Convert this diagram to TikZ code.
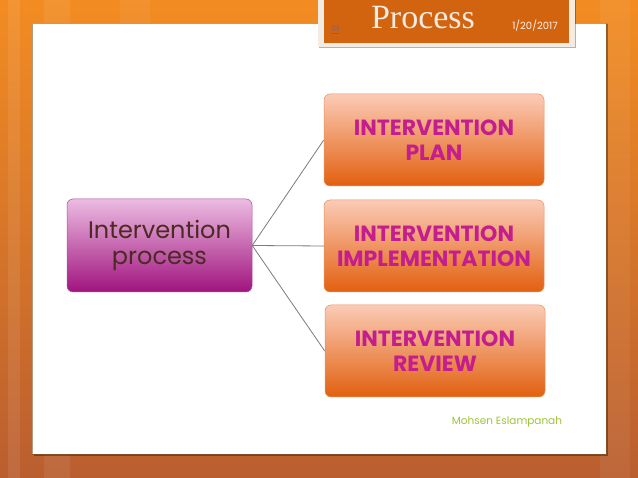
\documentclass[tikz,border=0pt]{standalone}
\usepackage{fontspec}
\setmainfont{Liberation Serif}
\newfontfamily\gothic{Poppins}
\definecolor{bgtop}{HTML}{F28C22}
\definecolor{bgbot}{HTML}{BA5E30}
\definecolor{titlefill}{HTML}{D2630F}
\definecolor{titleedge}{HTML}{F4ECE2}
\definecolor{magtop}{HTML}{ECBCE2}
\definecolor{magbot}{HTML}{A0137E}
\definecolor{magedge}{HTML}{B24C98}
\definecolor{ortop}{HTML}{FBCBB6}
\definecolor{ormid}{HTML}{F4A070}
\definecolor{orbot}{HTML}{E2600F}
\definecolor{oredge}{HTML}{E8915E}
\definecolor{pinktxt}{HTML}{C41E8E}
\definecolor{browntxt}{HTML}{4A2A22}
\definecolor{greentxt}{HTML}{9DC43C}
\definecolor{linkgray}{HTML}{7C7C7C}
\tikzset{
  procbox/.style={rounded corners=6pt, minimum width=185pt, minimum height=93pt,
    top color=magtop, bottom color=magbot, draw=magedge, line width=0.5pt,
    text=browntxt, align=center, font=\gothic\fontsize{24}{26}\selectfont, inner sep=0pt},
  stagebox/.style={rounded corners=6pt, minimum width=220pt, minimum height=92pt,
    top color=ortop, middle color=ormid, bottom color=orbot, draw=oredge, line width=0.5pt,
    text=pinktxt, align=center, font=\gothic\bfseries\fontsize{22}{25}\selectfont, inner sep=0pt},
  link/.style={draw=linkgray, line width=0.8pt}
}
\begin{document}
\begin{tikzpicture}[x=1pt,y=-1pt]
\useasboundingbox (0,0) rectangle (638,478);
% background
\shade[top color=bgtop, bottom color=bgbot] (0,0) rectangle (638,478);
\fill[white, opacity=0.08] (8,0) rectangle (20,478);
\fill[white, opacity=0.07] (44,0) rectangle (70,478);
\fill[white, opacity=0.06] (600,0) rectangle (630,478);
\fill[white, opacity=0.05] (120,0) rectangle (150,30);
% white panel
\fill[black, opacity=0.35] (33.5,24.5) rectangle (608,456);
\fill[white] (32,23) rectangle (606,454);
\draw[brown!70!black, line width=0.5pt, opacity=0.6] (32,23) rectangle (606,454);
% title box
\fill[black, opacity=0.3] (319,0) rectangle (576,48.5);
\fill[titleedge] (318,0) rectangle (575,47);
\fill[titlefill] (324,0) rectangle (569,43);
\node (title) at (423,18) {\fontsize{34}{36}\selectfont\color{titleedge}Process};
\node (date) at (535,26) {\gothic\fontsize{10}{11}\selectfont\color{white!92!orange}1/20/2017};
\node (pageno) at (335,30) {\fontsize{8}{9}\selectfont\color{gray!80!blue}\underline{33}};
% nodes
\node[procbox] (proc) at (159.5,245.5) {Intervention\\process};
\node[stagebox] (plan) at (434,140) {INTERVENTION\\PLAN};
\node[stagebox] (impl) at (434,246) {INTERVENTION\\IMPLEMENTATION};
\node[stagebox] (rev) at (435,351) {INTERVENTION\\REVIEW};
% connectors
\draw[link] (proc.east) -- (plan.west);
\draw[link] (proc.east) -- (impl.west);
\draw[link] (proc.east) -- (rev.west);
% footer
\node (author) at (507,422) {\gothic\fontsize{10.5}{12}\selectfont\color{greentxt}Mohsen Eslampanah};
\end{tikzpicture}
\end{document}
